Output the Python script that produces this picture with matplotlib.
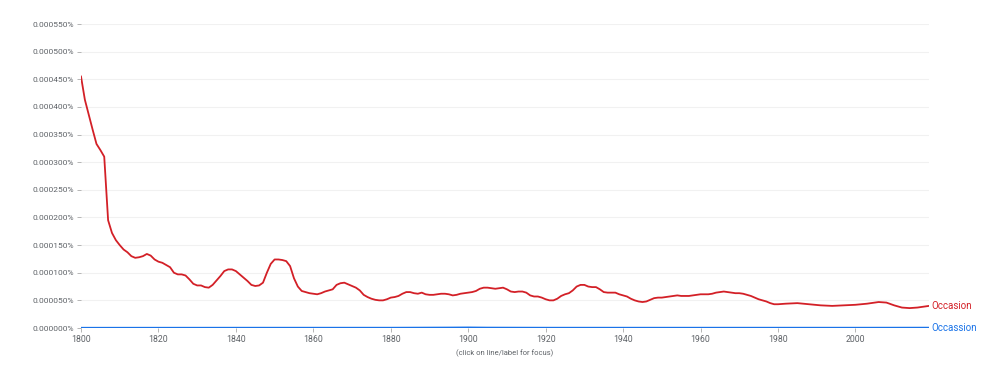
import matplotlib.pyplot as plt
from matplotlib.ticker import FuncFormatter

# ---------------- DATA ----------------
# years (yearly up to 1980, sparser after)
years = list(range(1800, 1981)) + [1982, 1985, 1988, 1991, 1994, 1997, 2000,
                                   2003, 2006, 2008, 2010, 2012, 2014, 2016, 2019]

# "Occasion" in millionths of a percent
occasion_e6 = [
    455, 413, 386, 359, 333, 322, 310, 195, 172, 159,   # 1800-1809
    150, 142, 137, 130, 127, 128, 130, 134, 131, 124,   # 1810-1819
    120, 118, 114, 110, 100, 97, 97, 95, 88, 80,        # 1820-1829
    77, 77, 74, 73, 78, 86, 94, 103, 106, 106,          # 1830-1839
    103, 97, 91, 85, 78, 76, 77, 82, 100, 116,          # 1840-1849
    124, 124, 123, 121, 112, 90, 75, 67, 65, 63,        # 1850-1859
    62, 61, 63, 66, 68, 70, 78, 81, 82, 79,             # 1860-1869
    76, 73, 68, 60, 56, 53, 51, 50, 50, 52,             # 1870-1879
    55, 56, 58, 62, 65, 65, 63, 62, 64, 61,             # 1880-1889
    60, 60, 61, 62, 62, 61, 59, 60, 62, 63,             # 1890-1899
    64, 65, 67, 71, 73, 73, 72, 71, 72, 73,             # 1900-1909
    70, 66, 65, 66, 66, 64, 59, 57, 57, 55,             # 1910-1919
    52, 50, 50, 53, 58, 61, 63, 68, 75, 78,             # 1920-1929
    78, 75, 74, 74, 70, 65, 64, 64, 64, 61,             # 1930-1939
    59, 57, 53, 50, 48, 47, 48, 51, 54, 55,             # 1940-1949
    55, 56, 57, 58, 59, 58, 58, 58, 59, 60,             # 1950-1959
    61, 61, 61, 62, 64, 65, 66, 65, 64, 63,             # 1960-1969
    63, 62, 60, 58, 55, 52, 50, 48, 45, 43,             # 1970-1979
    43,                                                 # 1980
    44, 45, 43, 41, 40, 41, 42, 44, 47, 46, 41, 37, 36, 37, 40,
]

# "Occassion" (misspelling), practically flat near zero
occassion_years = [1800, 1850, 1880, 1895, 1900, 1905, 1920, 1960, 2000, 2019]
occassion_e6 = [0.3, 0.4, 0.4, 0.7, 0.9, 0.6, 0.4, 0.4, 0.4, 0.5]

occasion = [v * 1e-6 for v in occasion_e6]
occassion = [v * 1e-6 for v in occassion_e6]

RED = "#d32027"
BLUE = "#1a73e8"
GREY = "#5f6368"

# ---------------- PLOT ----------------
plt.rcParams['font.family'] = ['Roboto', 'DejaVu Sans']

fig = plt.figure(figsize=(10, 3.7), dpi=100)
ax = fig.add_axes([0.081, 0.1135, 0.848, 0.8216])

ax.plot(occassion_years, occassion, color=BLUE, lw=1.4, solid_capstyle='butt')
ax.plot(years, occasion, color=RED, lw=1.3)

ax.set_xlim(1800, 2019)
ax.set_ylim(0, 0.00055)
ax.set_yticks([i * 0.00005 for i in range(12)])
ax.set_xticks(range(1800, 2020, 20))
ax.yaxis.set_major_formatter(FuncFormatter(lambda v, p: f"{v:.6f}%"))

for s in ax.spines.values():
    s.set_visible(False)
ax.grid(axis='y', color='#f1f1f1', lw=0.8)
ax.set_axisbelow(True)
ax.tick_params(axis='y', length=3, width=0.6, color='#aaaaaa', pad=2,
               labelsize=6, labelcolor=GREY)
ax.tick_params(axis='x', length=3, width=0.6, color='#aaaaaa', pad=2,
               labelsize=6.3, labelcolor=GREY)

# labels at the end of each line
ax.text(2019.7, occasion[-1], "Occasion", color=RED, fontsize=7, va='center')
ax.text(2019.7, occassion[-1], "Occassion", color=BLUE, fontsize=7, va='center')

fig.text(0.505, 0.045, "(click on line/label for focus)", color=GREY,
         fontsize=5.5, ha='center', va='center')

fig.savefig("out.png", dpi=100)
